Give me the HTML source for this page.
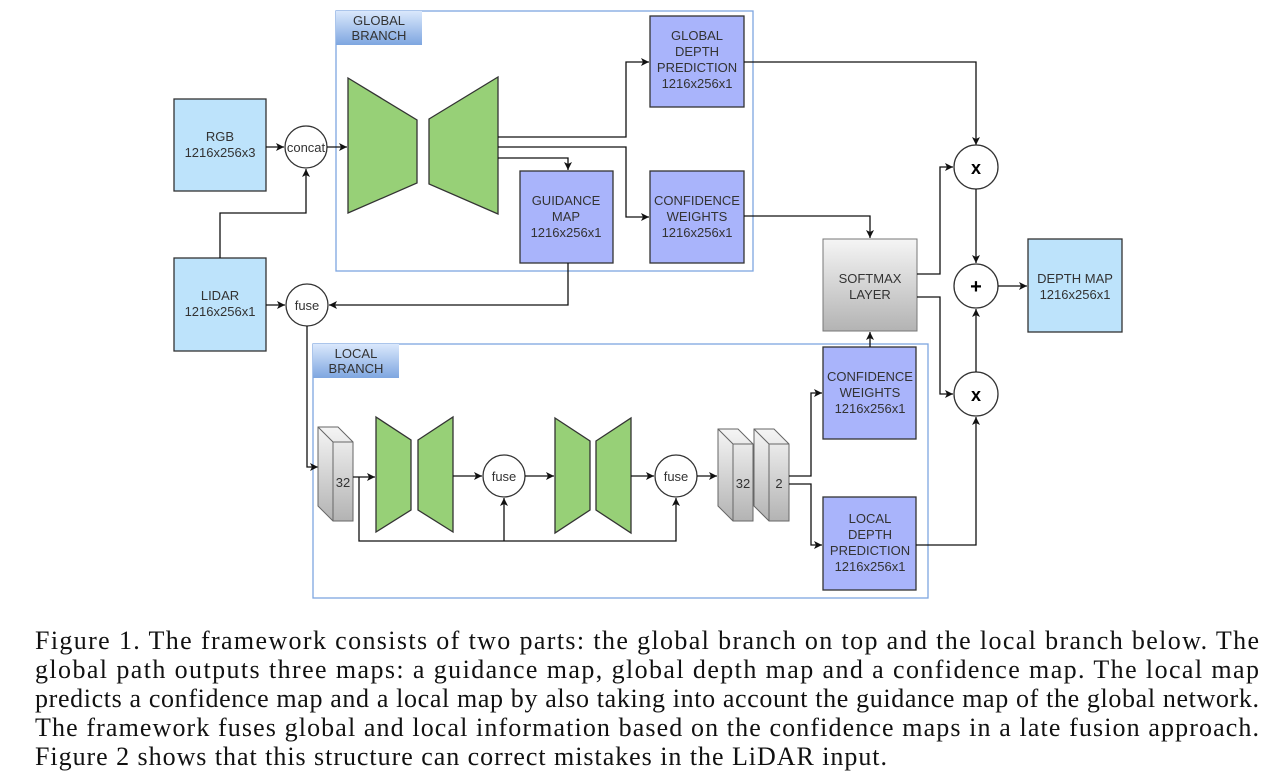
<!DOCTYPE html>
<html><head><meta charset="utf-8"><style>
body{margin:0;background:#fff;width:1279px;height:775px;overflow:hidden}
svg{display:block}
.t{font-family:"Liberation Sans",sans-serif;font-size:13px;fill:#333;text-anchor:middle}
.c{font-family:"Liberation Serif",serif;font-size:26px;fill:#111}
.l{fill:none;stroke:#111;stroke-width:1.3}
.box{stroke:#333;stroke-width:1.3}
.g{fill:#97d077;stroke:#333;stroke-width:1.3}
</style></head><body>
<svg width="1279" height="775" viewBox="0 0 1279 775">
<defs>
<marker id="a" markerWidth="10" markerHeight="10" refX="9" refY="5" orient="auto" markerUnits="userSpaceOnUse"><path d="M1,1 L9,5 L1,9 L3,5 Z" fill="#111"/></marker>
<linearGradient id="tab" x1="0" y1="0" x2="0" y2="1"><stop offset="0" stop-color="#dae8fc"/><stop offset="1" stop-color="#7ea6e0"/></linearGradient>
<linearGradient id="gr" x1="0" y1="0" x2="0" y2="1"><stop offset="0" stop-color="#f5f5f5"/><stop offset="1" stop-color="#b3b3b3"/></linearGradient>
</defs>
<rect x="336" y="11" width="417" height="260" fill="none" stroke="#7ea6e0" stroke-width="1.3"/>
<rect x="336" y="11" width="86" height="34" fill="url(#tab)"/>
<text class="t" x="379" y="25">GLOBAL</text><text class="t" x="379" y="40">BRANCH</text>
<rect x="313" y="344" width="615" height="254" fill="none" stroke="#7ea6e0" stroke-width="1.3"/>
<rect x="313" y="344" width="86" height="34" fill="url(#tab)"/>
<text class="t" x="356" y="358">LOCAL</text><text class="t" x="356" y="373">BRANCH</text>
<rect class="box" x="174" y="99" width="92" height="92" fill="#bde3fb"/>
<text class="t" x="220" y="141">RGB</text><text class="t" x="220" y="157">1216x256x3</text>
<rect class="box" x="174" y="258" width="92" height="93" fill="#bde3fb"/>
<text class="t" x="220" y="300">LIDAR</text><text class="t" x="220" y="316">1216x256x1</text>
<circle cx="306" cy="147" r="21" fill="#fff" stroke="#333" stroke-width="1.3"/><text class="t" x="306" y="152">concat</text>
<circle cx="307" cy="305" r="21" fill="#fff" stroke="#333" stroke-width="1.3"/><text class="t" x="307" y="310">fuse</text>
<path class="l" d="M266,147 H284" marker-end="url(#a)"/>
<path class="l" d="M327,147 H347" marker-end="url(#a)"/>
<path class="l" d="M220,258 V213 H306 V169" marker-end="url(#a)"/>
<path class="l" d="M266,305 H285" marker-end="url(#a)"/>
<path class="l" d="M307,326 V467 H318" marker-end="url(#a)"/>
<polygon class="g" points="348,78 417,120 417,183 348,213"/>
<polygon class="g" points="429,119 498,77 498,214 429,184"/>
<rect class="box" x="650" y="16" width="94" height="91" fill="#a9b4fb"/>
<text class="t" x="697" y="40">GLOBAL</text><text class="t" x="697" y="56">DEPTH</text><text class="t" x="697" y="72">PREDICTION</text><text class="t" x="697" y="88">1216x256x1</text>
<rect class="box" x="520" y="171" width="93" height="92" fill="#a9b4fb"/>
<text class="t" x="566" y="205">GUIDANCE</text><text class="t" x="566" y="221">MAP</text><text class="t" x="566" y="237">1216x256x1</text>
<rect class="box" x="650" y="171" width="94" height="92" fill="#a9b4fb"/>
<text class="t" x="697" y="205">CONFIDENCE</text><text class="t" x="697" y="221">WEIGHTS</text><text class="t" x="697" y="237">1216x256x1</text>
<path class="l" d="M498,137 H626 V62 H649" marker-end="url(#a)"/>
<path class="l" d="M498,147 H626 V217 H649" marker-end="url(#a)"/>
<path class="l" d="M498,158 H568 V170" marker-end="url(#a)"/>
<path class="l" d="M568,263 V305 H329" marker-end="url(#a)"/>
<g>
<polygon points="318,427 338,427 353,442 353,521 333,521 318,506" fill="url(#gr)" stroke="#666" stroke-width="1"/>
<path d="M333,521 V442 L318,427 M333,442 H353" stroke="#666" fill="none"/>
<text class="t" x="343" y="487">32</text>
<polygon points="718,429 738,429 753,444 753,521 733,521 718,506" fill="url(#gr)" stroke="#666" stroke-width="1"/>
<path d="M733,521 V444 L718,429 M733,444 H753" stroke="#666" fill="none"/>
<text class="t" x="743" y="488">32</text>
<polygon points="754,429 774,429 789,444 789,521 769,521 754,506" fill="url(#gr)" stroke="#666" stroke-width="1"/>
<path d="M769,521 V444 L754,429 M769,444 H789" stroke="#666" fill="none"/>
<text class="t" x="779" y="488">2</text>
</g>
<polygon class="g" points="376,417 411,440 411,510 376,532"/>
<polygon class="g" points="418,440 453,417 453,532 418,510"/>
<polygon class="g" points="555,418 590,441 590,510 555,533"/>
<polygon class="g" points="596,441 631,418 631,533 596,510"/>
<circle cx="504" cy="476" r="21" fill="#fff" stroke="#333" stroke-width="1.3"/><text class="t" x="504" y="481">fuse</text>
<circle cx="676" cy="476" r="21" fill="#fff" stroke="#333" stroke-width="1.3"/><text class="t" x="676" y="481">fuse</text>
<path class="l" d="M353,477 H375" marker-end="url(#a)"/>
<path class="l" d="M453,476 H482" marker-end="url(#a)"/>
<path class="l" d="M525,476 H554" marker-end="url(#a)"/>
<path class="l" d="M631,476 H654" marker-end="url(#a)"/>
<path class="l" d="M697,476 H717" marker-end="url(#a)"/>
<path class="l" d="M359,477 V541 H676 V498" marker-end="url(#a)"/>
<path class="l" d="M504,541 V498" marker-end="url(#a)"/>
<path class="l" d="M789,476 H811 V393 H822" marker-end="url(#a)"/>
<path class="l" d="M789,484 H811 V545 H822" marker-end="url(#a)"/>
<rect class="box" x="823" y="347" width="93" height="92" fill="#a9b4fb"/>
<text class="t" x="870" y="381">CONFIDENCE</text><text class="t" x="870" y="397">WEIGHTS</text><text class="t" x="870" y="413">1216x256x1</text>
<rect class="box" x="823" y="497" width="93" height="93" fill="#a9b4fb"/>
<text class="t" x="870" y="523">LOCAL</text><text class="t" x="870" y="539">DEPTH</text><text class="t" x="870" y="555">PREDICTION</text><text class="t" x="870" y="571">1216x256x1</text>
<rect x="823" y="239" width="94" height="92" fill="url(#gr)" stroke="#777" stroke-width="1"/>
<text class="t" x="870" y="283">SOFTMAX</text><text class="t" x="870" y="299">LAYER</text>
<path class="l" d="M870,347 V332" marker-end="url(#a)"/>
<path class="l" d="M744,216 H870 V238" marker-end="url(#a)"/>
<path class="l" d="M744,62 H976 V145" marker-end="url(#a)"/>
<circle cx="976" cy="167" r="22" fill="#fff" stroke="#333" stroke-width="1.3"/><text x="976" y="174" style="font-family:'Liberation Sans',sans-serif;font-weight:bold;font-size:18px;text-anchor:middle">x</text>
<circle cx="976" cy="286" r="22" fill="#fff" stroke="#333" stroke-width="1.3"/><text x="976" y="293" style="font-family:'Liberation Sans',sans-serif;font-weight:bold;font-size:20px;text-anchor:middle">+</text>
<circle cx="976" cy="394" r="22" fill="#fff" stroke="#333" stroke-width="1.3"/><text x="976" y="401" style="font-family:'Liberation Sans',sans-serif;font-weight:bold;font-size:18px;text-anchor:middle">x</text>
<path class="l" d="M917,274 H940 V167 H953" marker-end="url(#a)"/>
<path class="l" d="M917,297 H940 V394 H953" marker-end="url(#a)"/>
<path class="l" d="M976,189 V263" marker-end="url(#a)"/>
<path class="l" d="M976,372 V309" marker-end="url(#a)"/>
<path class="l" d="M916,545 H976 V417" marker-end="url(#a)"/>
<path class="l" d="M998,286 H1027" marker-end="url(#a)"/>
<rect class="box" x="1028" y="239" width="94" height="93" fill="#bde3fb"/>
<text class="t" x="1075" y="283">DEPTH MAP</text><text class="t" x="1075" y="299">1216x256x1</text>
<text class="c" x="35" y="649" textLength="1224" lengthAdjust="spacing">Figure 1.  The framework consists of two parts: the global branch on top and the local branch below. The</text>
<text class="c" x="35" y="678" textLength="1224" lengthAdjust="spacing">global path outputs three maps: a guidance map, global depth map and a confidence map. The local map</text>
<text class="c" x="35" y="707" textLength="1224" lengthAdjust="spacing">predicts a confidence map and a local map by also taking into account the guidance map of the global network.</text>
<text class="c" x="35" y="736" textLength="1224" lengthAdjust="spacing">The framework fuses global and local information based on the confidence maps in a late fusion approach.</text>
<text class="c" x="35" y="765" textLength="852" lengthAdjust="spacing">Figure 2 shows that this structure can correct mistakes in the LiDAR input.</text>
</svg>
</body></html>
